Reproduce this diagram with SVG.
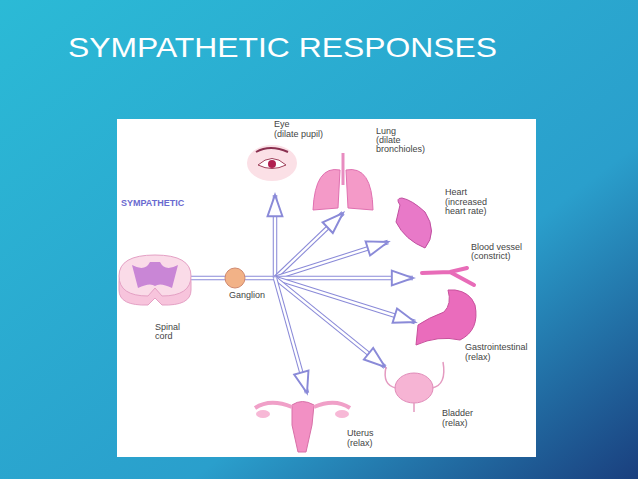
<svg xmlns="http://www.w3.org/2000/svg" width="638" height="479" viewBox="0 0 638 479">
<defs>
<linearGradient id="bg" x1="0" y1="0" x2="1" y2="1">
<stop offset="0" stop-color="#2bbad6"/><stop offset="0.65" stop-color="#2a9fcc"/><stop offset="1" stop-color="#1a3f7e"/>
</linearGradient>
<marker id="ah" markerUnits="userSpaceOnUse" markerWidth="30" markerHeight="30" refX="12" refY="0" viewBox="-2 -8 17 16" orient="auto" overflow="visible">
<path d="M0,-4.2 L12,0 L0,4.2 Z" fill="#fff" stroke="#8a8ad8" stroke-width="1.1"/>
</marker>
<style>
.t{font-family:"Liberation Sans",Arial,sans-serif;font-size:9px;fill:#444}
.o{stroke:#8a8ad8;stroke-width:4.5;fill:none}
.i{stroke:#fff;stroke-width:2.4;fill:none;marker-end:url(#ah)}
.org{fill:#f49ac8;stroke:#e070b0;stroke-width:1}
</style>
</defs>
<rect width="638" height="479" fill="url(#bg)"/>
<text x="68" y="57" font-family="Liberation Sans,Arial,sans-serif" font-size="28" textLength="429" lengthAdjust="spacingAndGlyphs" fill="#fff">SYMPATHETIC RESPONSES</text>
<rect x="117" y="119" width="419" height="338" fill="#fff"/>
<g id="connectors">
<line class="o" x1="173" y1="278" x2="275" y2="278"/><line class="i" x1="173" y1="278" x2="275" y2="278" style="marker-end:none"/>
<line class="o" x1="275" y1="278" x2="275" y2="195"/><line class="i" x1="275" y1="278" x2="275" y2="195"/>
<line class="o" x1="275" y1="278" x2="343" y2="213"/><line class="i" x1="275" y1="278" x2="343" y2="213"/>
<line class="o" x1="275" y1="278" x2="388" y2="242"/><line class="i" x1="275" y1="278" x2="388" y2="242"/>
<line class="o" x1="275" y1="278" x2="413" y2="278"/><line class="i" x1="275" y1="278" x2="413" y2="278"/>
<line class="o" x1="275" y1="278" x2="415" y2="322"/><line class="i" x1="275" y1="278" x2="415" y2="322"/>
<line class="o" x1="275" y1="278" x2="385" y2="367"/><line class="i" x1="275" y1="278" x2="385" y2="367"/>
<line class="o" x1="275" y1="278" x2="307" y2="393"/><line class="i" x1="275" y1="278" x2="307" y2="393"/>
</g>
<g id="spinal">
<path d="M119,282 Q119,258 155,258 Q191,258 191,282 L191,290 Q191,306 162,305 L155,298 L148,305 Q119,306 119,290 Z" fill="#f7c4dc" stroke="#e4a0c4"/>
<path d="M119,276 Q119,255 155,255 Q191,255 191,276 Q191,296 162,296 L155,288 L148,296 Q119,296 119,276 Z" fill="#fadbe8" stroke="#e4a0c4"/>
<path d="M132,265 Q145,272 150,262 L160,262 Q165,272 178,265 L172,288 Q160,282 155,286 Q150,282 138,288 Z" fill="#c986d6"/>
<text class="t" x="155" y="330">Spinal</text><text class="t" x="155" y="339">cord</text>
</g>
<g id="ganglion"><circle cx="235" cy="278" r="10" fill="#f2b287" stroke="#d08a70"/>
<text class="t" x="229" y="298">Ganglion</text></g>
<text x="121" y="206" font-family="Liberation Sans,Arial,sans-serif" font-size="9" font-weight="bold" fill="#6a6ad0">SYMPATHETIC</text>
<g id="eye"><ellipse cx="272" cy="163" rx="25" ry="18" fill="#fbe0e6"/>
<path d="M258,165 Q272,152 286,165 Q272,172 258,165Z" fill="#fff" stroke="#a0405a"/><circle cx="272" cy="164" r="4" fill="#b02050"/>
<path d="M256,152 Q270,144 288,152" stroke="#8a3050" stroke-width="2" fill="none"/>
<text class="t" x="274" y="127">Eye</text><text class="t" x="274" y="137">(dilate pupil)</text></g>
<g id="lung"><path d="M340,170 Q315,165 313,210 L338,208 Z" class="org"/><path d="M346,170 Q372,165 373,210 L348,208 Z" class="org"/>
<line x1="343" y1="153" x2="343" y2="185" stroke="#e88cc0" stroke-width="3"/>
<text class="t" x="376" y="134">Lung</text><text class="t" x="376" y="143">(dilate</text><text class="t" x="376" y="152">bronchioles)</text></g>
<g id="heart"><path d="M400,205 Q395,198 402,198 Q412,200 425,212 Q438,232 425,248 Q405,240 396,222 Z" fill="#e879c8" stroke="#c050a0"/>
<text class="t" x="445" y="195">Heart</text><text class="t" x="445" y="205">(increased</text><text class="t" x="445" y="214">heart rate)</text></g>
<g id="vessel"><path d="M422,273 L450,272 L467,268 M450,272 L474,285" stroke="#e86cb8" stroke-width="4" fill="none" stroke-linecap="round"/>
<text class="t" x="471" y="250">Blood vessel</text><text class="t" x="471" y="259">(constrict)</text></g>
<g id="gi"><path d="M448,290 Q452,304 444,312 Q428,318 418,325 L416,345 Q438,335 460,340 Q480,330 475,305 Q470,292 455,290 Z" fill="#ea6cbc" stroke="#c8509c"/>
<text class="t" x="465" y="350">Gastrointestinal</text><text class="t" x="465" y="360">(relax)</text></g>
<g id="bladder"><ellipse cx="414" cy="388" rx="19" ry="15" fill="#f6b4d4" stroke="#e08ab8"/>
<path d="M386,367 Q382,385 396,388 M443,362 Q447,385 432,388 M414,403 L414,412" stroke="#e49ac0" stroke-width="1.5" fill="none"/>
<text class="t" x="442" y="416">Bladder</text><text class="t" x="442" y="426">(relax)</text></g>
<g id="uterus"><path d="M292,405 Q302,398 314,405 L312,425 L306,452 L298,452 L292,425 Z" fill="#f290c4" stroke="#d870a8"/>
<path d="M292,407 Q270,398 255,408 M314,407 Q335,398 350,408" stroke="#f0a0c8" stroke-width="4" fill="none"/>
<ellipse cx="263" cy="414" rx="7" ry="4" fill="#f7b8d6"/><ellipse cx="342" cy="414" rx="7" ry="4" fill="#f7b8d6"/>
<text class="t" x="347" y="436">Uterus</text><text class="t" x="347" y="446">(relax)</text></g>
</svg>
